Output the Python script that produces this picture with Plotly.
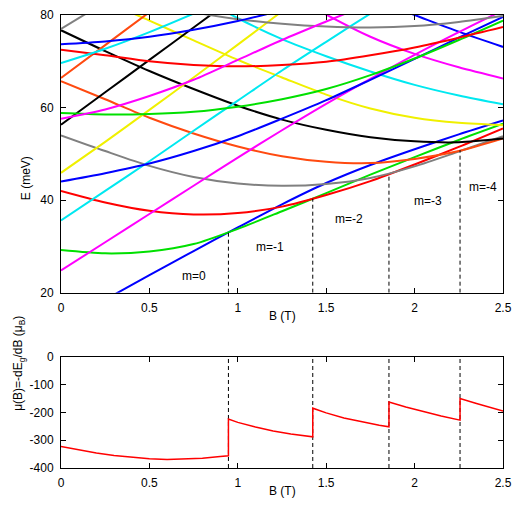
import plotly.graph_objects as go

# ---------------- data ----------------
B = [0, 0.25, 0.5, 0.75, 1.0, 1.25, 1.5, 1.75, 2.0, 2.25, 2.5]

# lowest branch (m = 0, -1, -2, ...)
blue1 = [13.3, 18.5, 23.8, 29.0, 34.1, 39.1, 43.7, 47.6, 51.0, 54.2, 57.2]
green1 = [29.2, 28.5, 28.9, 30.5, 33.8, 37.6, 41.5, 45.5, 49.3, 53.0, 56.5]
red1 = [42.0, 39.5, 37.7, 36.9, 37.2, 38.6, 41.1, 44.1, 47.7, 51.5, 55.5]
gray1 = [54.0, 50.6, 47.4, 45.0, 43.6, 43.1, 43.5, 44.8, 47.3, 50.5, 53.8]
orange1 = [65.7, 61.8, 57.8, 54.4, 51.6, 49.5, 48.3, 48.0, 48.9, 50.6, 53.3]
black1 = [76.7, 72.2, 67.9, 64.0, 60.4, 57.4, 55.2, 53.6, 52.7, 52.5, 53.3]
yellow1 = [87.8, 83.0, 78.8, 74.5, 70.3, 66.5, 62.8, 59.8, 57.8, 56.7, 56.2]
cyan1 = [None, None, 90.0, 84.6, 79.3, 74.8, 71.1, 67.8, 64.9, 62.6, 60.7]
magenta1 = [None, None, None, None, None, 85.5, 80.1, 75.3, 71.6, 68.7, 66.3]
blue4 = [None, None, None, None, None, None, 87.5, 83.6, 80.0, 76.4, 73.1]

# rising branch
magenta3 = [24.8, 30.9, 37.0, 43.1, 49.2, 55.1, 60.8, 66.2, 71.4, 76.3, 81.0]
cyan2 = [35.6, 42.0, 48.4, 55.0, 61.5, 68.0, 74.2, 80.3, 86.2, None, None]
yellow2 = [45.9, 52.6, 59.5, 66.5, 73.6, 80.8, 88.0, None, None, None, None]
black2 = [56.3, 63.3, 70.3, 77.3, 84.3, None, None, None, None, None, None]
orange2 = [66.4, 73.5, 80.6, 87.7, None, None, None, None, None, None, None]
gray3 = [77.0, 82.8, 88.6, None, None, None, None, None, None, None, None]

# upper branch
blue2 = [44.0, 45.8, 47.9, 50.6, 53.8, 57.6, 61.6, 66.0, 70.5, 75.1, 79.6]
green2 = [58.8, 58.5, 58.6, 59.1, 60.2, 61.8, 64.0, 67.0, 70.6, 74.6, 78.8]
red2 = [72.5, 71.3, 70.0, 69.2, 68.9, 69.2, 69.9, 71.3, 73.0, 75.1, 77.4]
gray2 = [87.0, 84.8, 82.6, 80.6, 79.1, 78.1, 77.5, 77.3, 77.6, 78.5, 79.8]
magenta2 = [57.6, 59.6, 62.5, 66.0, 70.3, 74.6, 78.6, 82.5, None, None, None]
cyan3 = [69.6, 72.7, 76.3, 80.3, 84.5, None, None, None, None, None, None]
blue3 = [73.7, 74.3, 75.3, 76.8, 78.7, 81.0, 83.5, None, None, None, None]

# ground-state transitions
trans_B = [0.947, 1.424, 1.855, 2.257]
trans_E = [33.0, 40.3, 45.6, 50.8]

# magnetization
mu_B = [0, 0.1, 0.2, 0.3, 0.4, 0.5, 0.6, 0.7, 0.8, 0.9, 0.947,
        0.947, 1.0, 1.1, 1.2, 1.3, 1.424,
        1.424, 1.5, 1.6, 1.7, 1.8, 1.855,
        1.855, 1.95, 2.05, 2.15, 2.257,
        2.257, 2.35, 2.43, 2.5]
mu_val = [-323, -335, -346, -355, -362, -367, -369, -368, -365, -359, -356,
          -224, -236, -253, -267, -278, -288,
          -185, -202, -220, -234, -246, -252,
          -163, -181, -198, -213, -228,
          -150, -168, -183, -195]

m_labels = ["m=0", "m=-1", "m=-2", "m=-3", "m=-4"]
m_label_B = [0.751, 1.181, 1.63, 2.078, 2.386]
m_label_E = [23.7, 29.8, 35.9, 39.9, 42.8]

# ---------------- styles ----------------
RED = "#ff0000"
GREEN = "#00e000"
BLUE = "#0000ff"
MAGENTA = "#ff00ff"
CYAN = "#00e8f0"
YELLOW = "#f0f000"
BLACK = "#000000"
ORANGE = "#ff4a10"
GRAY = "#808080"

curves = [
    (blue1, BLUE), (green1, GREEN), (red1, RED), (gray1, GRAY), (orange1, ORANGE),
    (black1, BLACK), (yellow1, YELLOW), (cyan1, CYAN), (magenta1, MAGENTA), (blue4, BLUE),
    (magenta3, MAGENTA), (cyan2, CYAN), (yellow2, YELLOW), (black2, BLACK),
    (orange2, ORANGE), (gray3, GRAY),
    (blue2, BLUE), (green2, GREEN), (red2, RED), (gray2, GRAY), (magenta2, MAGENTA),
    (cyan3, CYAN), (blue3, BLUE),
]

fig = go.Figure()
for vals, col in curves:
    fig.add_trace(go.Scatter(x=B, y=vals, mode="lines", xaxis="x", yaxis="y",
                             line=dict(color=col, width=2, shape="spline", smoothing=0.8),
                             showlegend=False, hoverinfo="skip"))

for tb, te in zip(trans_B, trans_E):
    fig.add_trace(go.Scatter(x=[tb, tb], y=[20, te], mode="lines", xaxis="x", yaxis="y",
                             line=dict(color="black", width=1, dash="4px,3px"),
                             showlegend=False, hoverinfo="skip"))
    fig.add_trace(go.Scatter(x=[tb, tb], y=[-400, 0], mode="lines", xaxis="x2", yaxis="y2",
                             line=dict(color="black", width=1, dash="4px,3px"),
                             showlegend=False, hoverinfo="skip"))

fig.add_trace(go.Scatter(x=mu_B, y=mu_val, mode="lines", xaxis="x2", yaxis="y2",
                         line=dict(color=RED, width=1.5),
                         showlegend=False, hoverinfo="skip"))

FONT = "Liberation Sans, Arial, Helvetica, sans-serif"
ax = dict(showline=True, linecolor="black", linewidth=1, mirror="ticks",
          ticks="inside", ticklen=5, tickwidth=1, tickcolor="black",
          showgrid=False, zeroline=False, ticklabelstandoff=4,
          tickfont=dict(family=FONT, size=12, color="black"))

xt = [0, 0.5, 1, 1.5, 2, 2.5]
xtt = ["0", "0.5", "1", "1.5", "2", "2.5"]

fig.update_layout(
    width=520, height=507,
    margin=dict(l=61, r=13, t=8, b=39),
    paper_bgcolor="white", plot_bgcolor="white",
    xaxis=dict(ax, domain=[0, 1], range=[0, 2.5], anchor="y", tickvals=xt, ticktext=xtt),
    yaxis=dict(ax, domain=[0.387, 1], range=[20, 80], anchor="x", tickvals=[20, 40, 60, 80]),
    xaxis2=dict(ax, domain=[0, 1], range=[0, 2.5], anchor="y2", tickvals=xt, ticktext=xtt),
    yaxis2=dict(ax, domain=[0, 0.2457], range=[-400, 0], anchor="x2",
                tickvals=[0, -100, -200, -300, -400],
                ticktext=["0", "-100", "-200", "-300", "-400"]),
)

ann = []
for t, bx, ey in zip(m_labels, m_label_B, m_label_E):
    ann.append(dict(x=bx, y=ey, xref="x", yref="y", text=t, showarrow=False,
                    font=dict(family=FONT, size=12, color="black")))
ann.append(dict(x=-0.101, y=0.6935, xref="paper", yref="paper", text="E (meV)",
                textangle=-90, showarrow=False, font=dict(family=FONT, size=12, color="black")))
ann.append(dict(x=0.5, y=0.3152, xref="paper", yref="paper", text="B (T)",
                showarrow=False, font=dict(family=FONT, size=12, color="black")))
ann.append(dict(x=0.5, y=-0.0696, xref="paper", yref="paper", text="B (T)",
                showarrow=False, font=dict(family=FONT, size=12, color="black")))
ann.append(dict(x=-0.1166, y=0.1217, xref="paper", yref="paper",
                text="μ(B)=-dE<sub>g</sub>/dB (μ<sub>B</sub>)",
                textangle=-90, showarrow=False, font=dict(family=FONT, size=12, color="black")))
fig.update_layout(annotations=ann)

fig.write_html("out.html")
